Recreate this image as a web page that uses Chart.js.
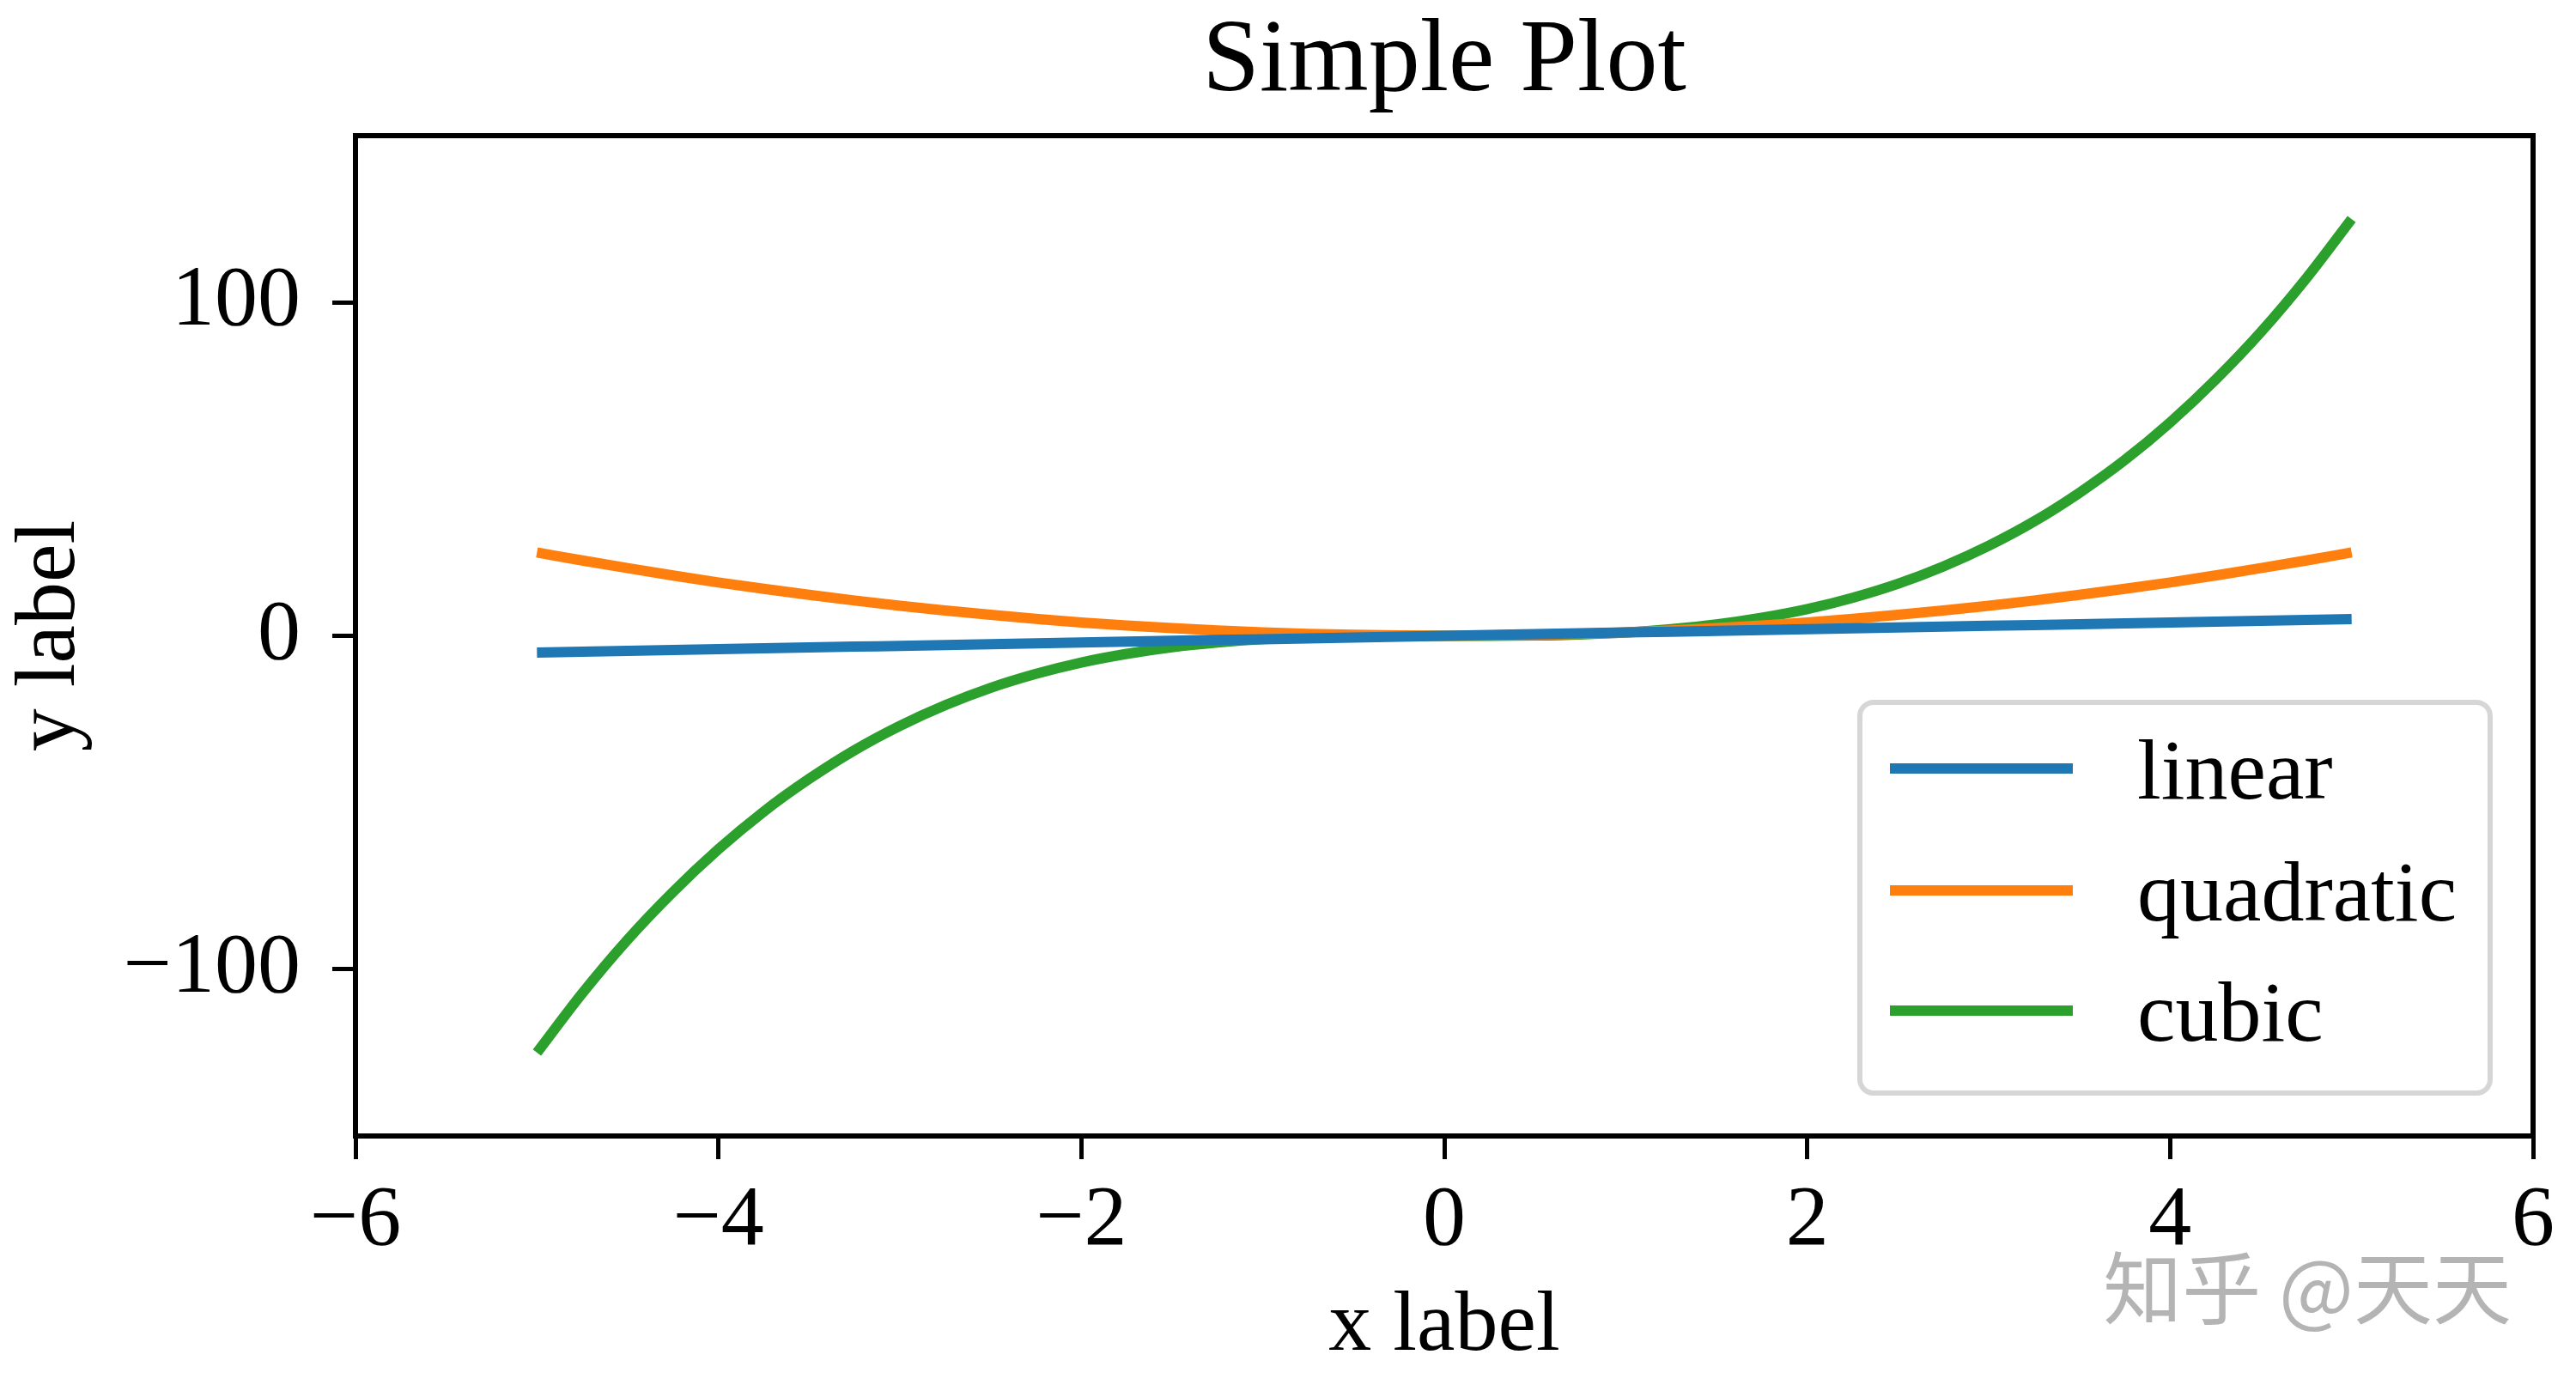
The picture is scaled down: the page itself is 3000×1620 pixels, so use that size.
<!DOCTYPE html>
<html>
<head>
<meta charset="utf-8">
<script src="https://cdn.jsdelivr.net/npm/chart.js@4/dist/chart.umd.min.js"></script>
<style>
html,body{margin:0;padding:0;background:#fff;}
canvas{display:block;}
</style>
</head>
<body>
<canvas id="c" width="3000" height="1620"></canvas>
<script>
// ---- data ----
const xValues   = [-5,-4.75,-4.5,-4.25,-4,-3.75,-3.5,-3.25,-3,-2.75,-2.5,-2.25,-2,-1.75,-1.5,-1.25,-1,-0.75,-0.5,-0.25,
                   0,0.25,0.5,0.75,1,1.25,1.5,1.75,2,2.25,2.5,2.75,3,3.25,3.5,3.75,4,4.25,4.5,4.75,5];
const linear    = [-5,-4.75,-4.5,-4.25,-4,-3.75,-3.5,-3.25,-3,-2.75,-2.5,-2.25,-2,-1.75,-1.5,-1.25,-1,-0.75,-0.5,-0.25,
                   0,0.25,0.5,0.75,1,1.25,1.5,1.75,2,2.25,2.5,2.75,3,3.25,3.5,3.75,4,4.25,4.5,4.75,5];
const quadratic = [25,22.6,20.3,18.1,16,14.1,12.3,10.6,9,7.6,6.3,5.1,4,3.1,2.3,1.6,1,0.6,0.3,0.1,
                   0,0.1,0.3,0.6,1,1.6,2.3,3.1,4,5.1,6.3,7.6,9,10.6,12.3,14.1,16,18.1,20.3,22.6,25];
const cubic     = [-125,-107.2,-91.1,-76.8,-64,-52.7,-42.9,-34.3,-27,-20.8,-15.6,-11.4,-8,-5.4,-3.4,-2,-1,-0.4,-0.1,0,
                   0,0,0.1,0.4,1,2,3.4,5.4,8,11.4,15.6,20.8,27,34.3,42.9,52.7,64,76.8,91.1,107.2,125];
const seriesNames = ['linear','quadratic','cubic'];
const xTicks = [-6,-4,-2,0,2,4,6];
const yTicks = [-100,0,100];
const titleText = 'Simple Plot';
const xLabel = 'x label';
const yLabel = 'y label';
const watermark = '知乎 @天天';

const colors = ['#1f77b4','#ff7f0e','#2ca02c'];
const FONT = "'Liberation Serif', 'Times New Roman', serif";
const fmt = v => (v < 0 ? '\u2212' + Math.abs(v) : String(v));
const toPts = ys => xValues.map((x,i)=>({x:x, y:ys[i]}));

const framePlugin = {
  id:'frame',
  afterDraw(chart){
    const {ctx, chartArea:a} = chart;
    ctx.save();
    // top and right spines
    ctx.strokeStyle = '#000';
    ctx.lineWidth = 6;
    ctx.lineCap = 'square';
    ctx.beginPath();
    ctx.moveTo(a.left, a.top);
    ctx.lineTo(a.right, a.top);
    ctx.lineTo(a.right, a.bottom);
    ctx.stroke();

    // legend box
    const bx = 2166, by = 818, bw = 734, bh = 455, r = 16;
    ctx.beginPath();
    ctx.roundRect(bx, by, bw, bh, r);
    ctx.fillStyle = 'rgba(255,255,255,0.8)';
    ctx.fill();
    ctx.lineWidth = 6;
    ctx.strokeStyle = '#d6d6d6';
    ctx.stroke();
    const ys = [895, 1037, 1177];
    chart.data.datasets.forEach((ds,i)=>{
      ctx.strokeStyle = ds.borderColor;
      ctx.lineWidth = 12;
      ctx.lineCap = 'butt';
      ctx.beginPath();
      ctx.moveTo(2201, ys[i]);
      ctx.lineTo(2414, ys[i]);
      ctx.stroke();
      ctx.fillStyle = '#000';
      ctx.font = '100px ' + FONT;
      ctx.textAlign = 'left';
      ctx.textBaseline = 'alphabetic';
      ctx.fillText(ds.label, 2489, ys[i] + 35);
    });

    // watermark
    ctx.font = "92px 'Noto Sans CJK SC', sans-serif";
    ctx.textAlign = 'right';
    ctx.textBaseline = 'alphabetic';
    ctx.fillStyle = '#b4b4b4';
    ctx.fillText(watermark, 2925, 1535);
    ctx.restore();
  }
};

new Chart(document.getElementById('c'), {
  type:'line',
  data:{
    datasets:[
      {label:seriesNames[0], data:toPts(linear),    borderColor:colors[0]},
      {label:seriesNames[1], data:toPts(quadratic), borderColor:colors[1]},
      {label:seriesNames[2], data:toPts(cubic),     borderColor:colors[2]}
    ]
  },
  options:{
    responsive:false,
    animation:false,
    devicePixelRatio:1,
    layout:{padding:{left:0,right:50,top:0,bottom:0}},
    elements:{
      line:{borderWidth:12, cubicInterpolationMode:'monotone', fill:false, borderCapStyle:'butt'},
      point:{radius:0, hoverRadius:0}
    },
    plugins:{
      legend:{display:false},
      tooltip:{enabled:false},
      title:{
        display:true, text:titleText, color:'#000', fullSize:false,
        font:{family:FONT, size:120, weight:'normal', lineHeight:1.14},
        padding:{top:5,bottom:16.2}
      }
    },
    scales:{
      x:{
        type:'linear', position:'bottom', min:-6, max:6,
        afterBuildTicks(s){ s.ticks = xTicks.map(v=>({value:v})); },
        afterFit(s){ s.height = 297; },
        ticks:{color:'#000', font:{family:FONT, size:100}, padding:13, maxRotation:0, autoSkip:false,
               callback:v=>fmt(v)},
        grid:{display:true, drawOnChartArea:false, drawTicks:true, tickLength:27, tickWidth:5, tickColor:'#000'},
        border:{display:true, color:'#000', width:6},
        title:{display:true, text:xLabel, color:'#000', font:{family:FONT, size:100, lineHeight:1.2}, padding:{top:0,bottom:14}}
      },
      y:{
        type:'linear', position:'left', min:-150, max:150,
        afterBuildTicks(s){ s.ticks = yTicks.map(v=>({value:v})); },
        afterFit(s){ s.width = 414; },
        ticks:{color:'#000', font:{family:FONT, size:100}, padding:37, autoSkip:false,
               callback:v=>fmt(v)},
        grid:{display:true, drawOnChartArea:false, drawTicks:true, tickLength:27, tickWidth:5, tickColor:'#000'},
        border:{display:true, color:'#000', width:6},
        title:{display:true, text:yLabel, color:'#000', font:{family:FONT, size:100, lineHeight:1.2}, padding:{top:0,bottom:0}}
      }
    }
  },
  plugins:[framePlugin]
});
</script>
</body>
</html>
